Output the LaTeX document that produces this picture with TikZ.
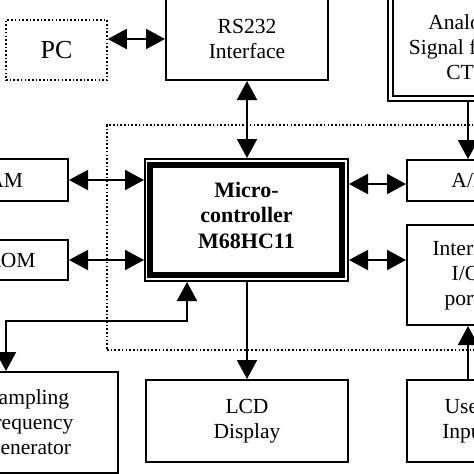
\documentclass[tikz,border=0pt]{standalone}
\usepackage{fontspec}
\setmainfont{Liberation Serif}
\usetikzlibrary{arrows.meta,calc}
\begin{document}
\begin{tikzpicture}[x=1pt,y=-1pt,
  box/.style={draw,line width=2pt,inner sep=0pt,align=center,
    font=\fontsize{21.5}{25}\selectfont},
  dotbox/.style={draw,line width=1.6pt,dash pattern=on 1.6pt off 2.1pt},
  tip/.tip={Triangle[length=19pt,width=20pt]},
  conn/.style={line width=2pt},
  bi/.style={conn,tip-tip},
  uni/.style={conn,-tip}]
\path[use as bounding box] (0,0) rectangle (474,474);
\clip (0,0) rectangle (474,474);
% dotted board outline
\node[dotbox,minimum width=400pt,minimum height=225pt,inner sep=0pt] (board) at (307,237.5) {};
% boxes
\node[box,dotbox,minimum width=101pt,minimum height=60pt,font=\fontsize{26}{30}\selectfont] (pc) at (56.5,50) {PC};
\node[box,minimum width=162pt,minimum height=82pt] (rs) at (247,39) {RS232\\Interface};
\node[box,double,double distance=3pt,minimum width=140pt,minimum height=102pt] (an) at (460,47.5) {Analog\\Signal from\\CT};
\node[box,minimum width=203pt,minimum height=122pt] (micro) at (246.5,220) {};
\node[font=\bfseries\fontsize{22}{25.5}\selectfont,align=center,inner sep=0pt] (microtxt) at (246.5,215) {Micro-\\controller\\M68HC11};
\draw[line width=6pt] ($(micro.north west)+(6,7)$) rectangle ($(micro.south east)+(-7,-7)$);
\node[box,minimum width=139pt,minimum height=42pt] (ram) at (-1.5,180) {RAM};
\node[box,minimum width=139pt,minimum height=40pt] (rom) at (-1.5,260) {EPROM};
\node[box,minimum width=126pt,minimum height=41pt] (ad) at (470,180.5) {A/D};
\node[box,minimum width=118pt,minimum height=100pt] (io) at (466,275) {Internal\\I/O\\ports};
\node[box,minimum width=202pt,minimum height=82pt] (lcd) at (247,421) {LCD\\Display};
\node[box,minimum width=116pt,minimum height=82pt] (user) at (465,421) {User\\Input};
\node[box,minimum width=180pt,minimum height=101pt] (sfg) at (28,422.5) {Sampling\\Frequency\\Generator};
% connectors
\coordinate (bend) at (6,321);
\coordinate (tap) at (187,321);
\draw[bi] (rs.west -| pc.east) -- (rs.west);
\draw[bi] (rs.south) -- (rs.south |- micro.north);
\draw[bi] (ram.east) -- (ram.east -| micro.west);
\draw[bi] (rom.east) -- (rom.east -| micro.west);
\draw[bi] ([yshift=-3.5pt]ad.west -| micro.east) -- ([yshift=-3.5pt]ad.west);
\draw[bi] (rom.east -| micro.east) -- (rom.east -| io.west);
\draw[uni] ([xshift=-2pt]ad.north |- an.south) -- ([xshift=-2pt]ad.north);
\draw[uni] ([xshift=-2pt]ad.north |- user.north) -- ([xshift=-2pt]ad.north |- io.south);
\draw[uni] (lcd.north |- micro.south) -- (lcd.north);
\draw[bi] (tap |- micro.south) -- (tap) -- (bend) -- (bend |- sfg.north);
\end{tikzpicture}
\end{document}
